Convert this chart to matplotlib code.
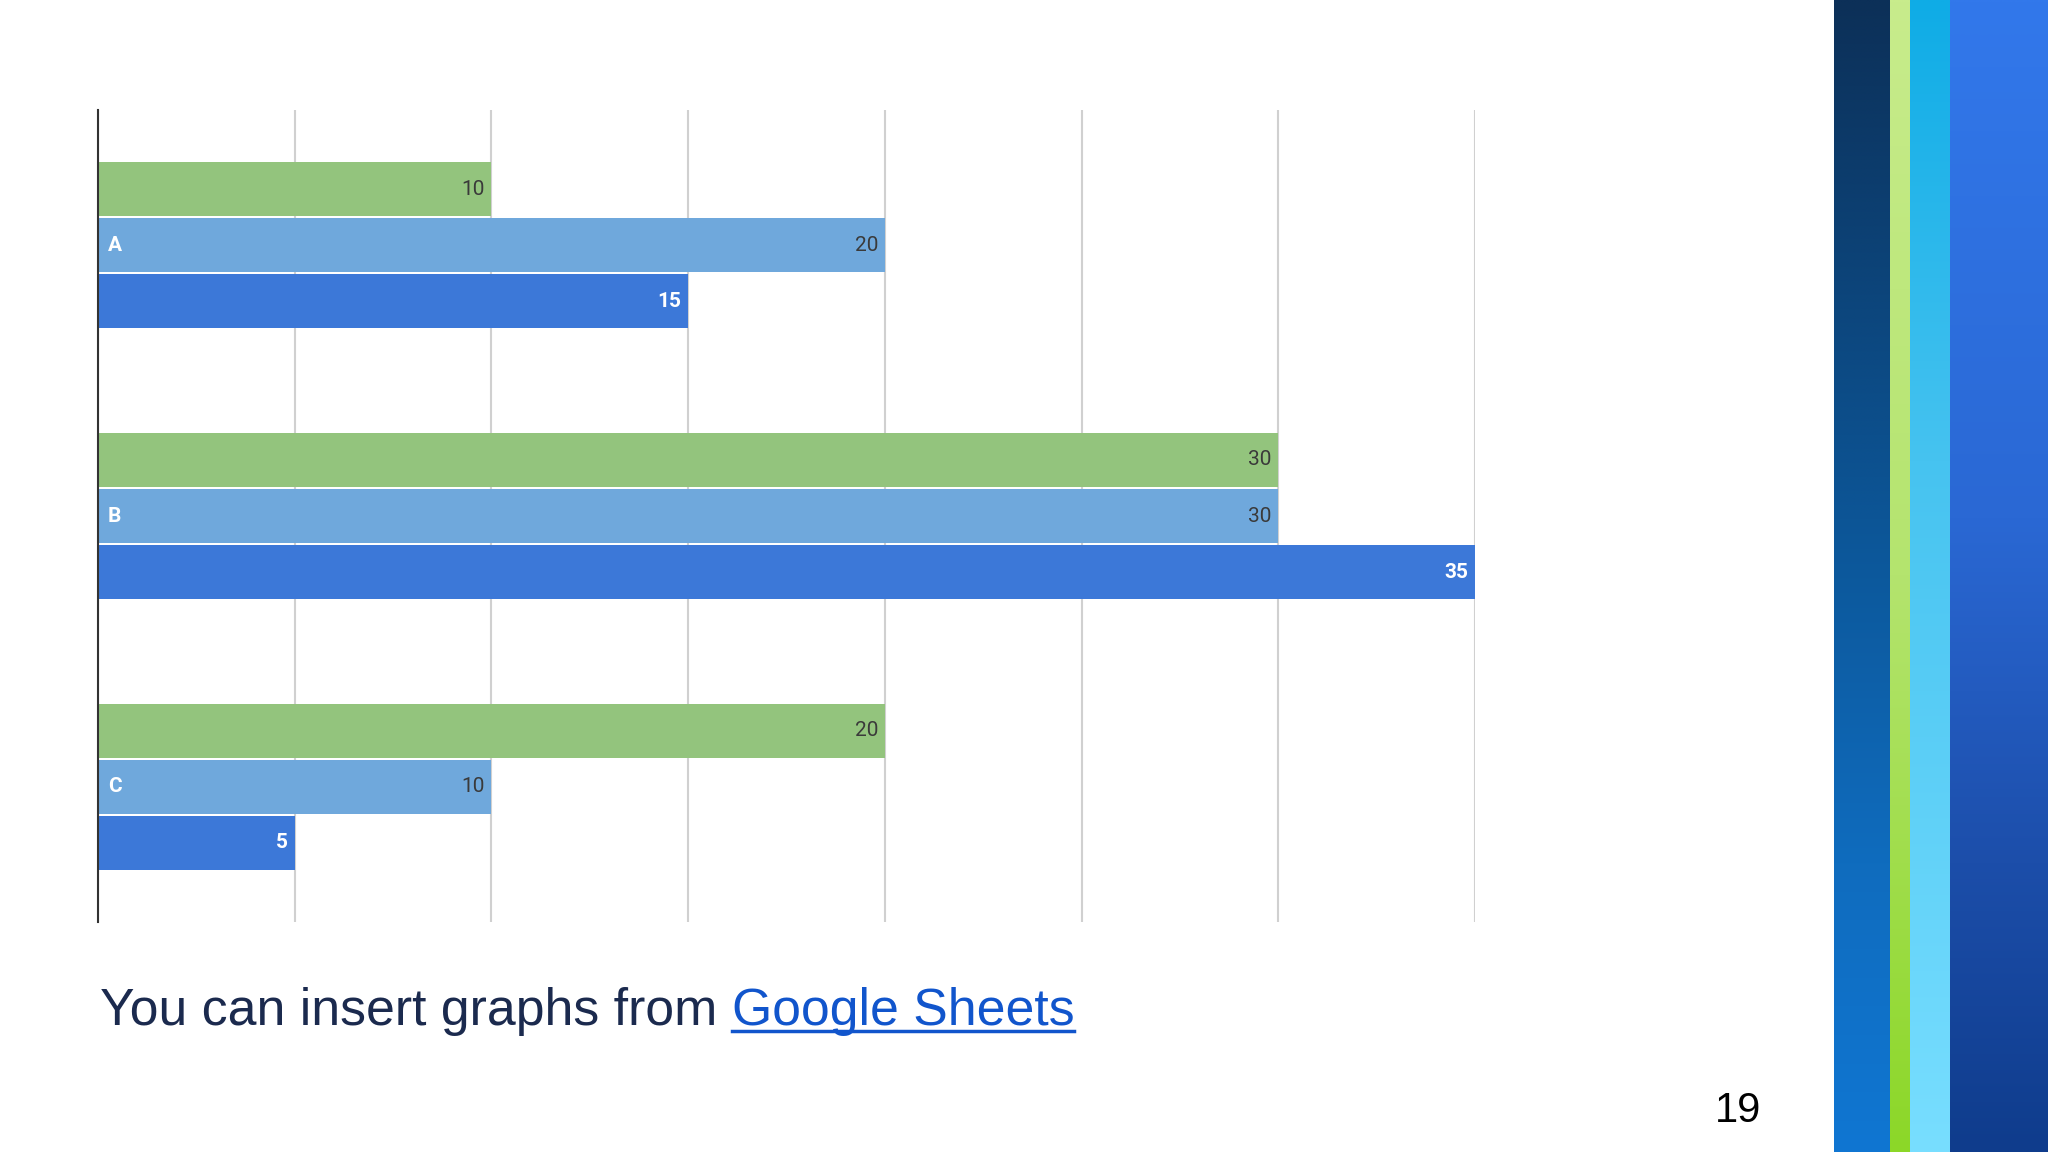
import numpy as np
import matplotlib
matplotlib.use("Agg")
import matplotlib.pyplot as plt
from matplotlib.lines import Line2D
from matplotlib.transforms import IdentityTransform

# chart data
categories = ["A", "B", "C"]
series_green = [10, 30, 20]
series_light = [20, 30, 10]
series_blue = [15, 35, 5]
ticks = [0, 5, 10, 15, 20, 25, 30, 35]

W, H = 2048, 1152
fig = plt.figure(figsize=(W / 100, H / 100), dpi=100)
fig.patch.set_facecolor("white")

# background axes in pixel coords for the slide decoration
bg = fig.add_axes([0, 0, 1, 1])
bg.set_xlim(0, W)
bg.set_ylim(H, 0)
bg.axis("off")


def stripe(x0, x1, stops):
    # stops: list of (pos, rgb) from top to bottom
    pos = np.linspace(0, 1, 256)
    cols = np.zeros((256, 1, 3))
    p = [s[0] for s in stops]
    for k in range(3):
        cols[:, 0, k] = np.interp(pos, p, [s[1][k] / 255 for s in stops])
    bg.imshow(cols, extent=(x0, x1, H, 0), aspect="auto", interpolation="bilinear")


stripe(1834, 1890, [(0, (12, 48, 88)), (0.45, (12, 85, 150)), (0.75, (15, 108, 190)), (1, (16, 118, 210))])
stripe(1890, 1910, [(0, (200, 236, 140)), (0.5, (180, 228, 110)), (1, (140, 215, 40))])
stripe(1910, 1950, [(0, (15, 172, 230)), (0.4, (70, 195, 240)), (1, (120, 222, 255))])
stripe(1950, W, [(0, (50, 120, 235)), (0.45, (42, 104, 212)), (0.75, (28, 78, 170)), (1, (15, 60, 140))])
bg.set_xlim(0, W)
bg.set_ylim(H, 0)

# the bar chart
ax = fig.add_axes([98 / W, 1 - 922 / H, (1475 - 98) / W, (922 - 110) / H])
ax.set_facecolor("none")
y = np.arange(len(categories))
pitch = 0.207
h = 0.2
ax.barh(y - pitch, series_green, height=h, color="#93c47d", zorder=2)
ax.barh(y, series_light, height=h, color="#6fa8dc", zorder=2)
ax.barh(y + pitch, series_blue, height=h, color="#3c78d8", zorder=2)

ax.set_xlim(0, 35)
ax.set_ylim(len(categories) - 0.5, -0.5)
ax.set_xticks(ticks)
ax.set_yticks([])
ax.tick_params(length=0, labelbottom=False)
ax.grid(axis="x", color="#d0d0d0", linewidth=1.5, zorder=0)
for s in ["top", "right", "bottom"]:
    ax.spines[s].set_visible(False)
ax.spines["left"].set_color("#333333")
ax.spines["left"].set_linewidth(1.5)
ax.spines["left"].set_zorder(3)

lab_font = dict(family=["Roboto", "DejaVu Sans"], fontsize=15)
for i in range(len(categories)):
    ax.annotate(str(series_green[i]), (series_green[i], i - pitch), xytext=(-5, 0),
                textcoords="offset points", ha="right", va="center", color="#3a3a3a", zorder=4, **lab_font)
    ax.annotate(str(series_light[i]), (series_light[i], i), xytext=(-5, 0),
                textcoords="offset points", ha="right", va="center", color="#3a3a3a", zorder=4, **lab_font)
    ax.annotate(str(series_blue[i]), (series_blue[i], i + pitch), xytext=(-5, 0),
                textcoords="offset points", ha="right", va="center", color="white",
                fontweight="bold", zorder=4, **lab_font)
    ax.annotate(categories[i], (0, i), xytext=(7, 0), textcoords="offset points",
                ha="left", va="center", color="white", fontweight="bold", zorder=4, **lab_font)

# caption with link
cap_font = dict(family=["Liberation Sans", "DejaVu Sans"], fontsize=37.3)
base_y = 1025
t1 = bg.text(100, base_y, "You can insert graphs from", color="#1b2a4e", va="baseline", ha="left", **cap_font)

bg.text(1738, 1122, "19", color="black", ha="center", va="baseline",
        family=["Liberation Sans", "DejaVu Sans"], fontsize=30)

fig.canvas.draw()
b1 = t1.get_window_extent()
# space after "from" is about 0.278 em
x_link = b1.x1 + 0.278 * 37.3 * 100 / 72
t2 = bg.text(x_link, base_y, "Google Sheets", color="#1155cc", va="baseline", ha="left", **cap_font)
fig.canvas.draw()
b2 = t2.get_window_extent()
under = (H - base_y) - 6
fig.add_artist(Line2D([b2.x0, b2.x1], [under, under], transform=IdentityTransform(),
                      color="#1155cc", linewidth=2.5))

fig.savefig("out.png", dpi=100)
